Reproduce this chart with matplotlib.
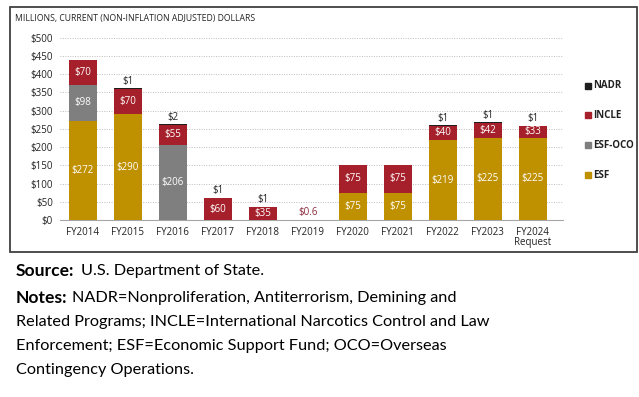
import matplotlib
matplotlib.use("Agg")
import matplotlib.pyplot as plt
from matplotlib.patches import Rectangle

years = ["FY2014", "FY2015", "FY2016", "FY2017", "FY2018", "FY2019",
         "FY2020", "FY2021", "FY2022", "FY2023", "FY2024\nRequest"]
esf = [272, 290, 0, 0, 0, 0, 75, 75, 219, 225, 225]
esf_oco = [98, 0, 206, 0, 0, 0, 0, 0, 0, 0, 0]
incle = [70, 70, 55, 60, 35, 0.6, 75, 75, 40, 42, 33]
nadr = [0, 1, 2, 1, 1, 0, 0, 0, 1, 1, 1]
yticks = [0, 50, 100, 150, 200, 250, 300, 350, 400, 450, 500]

C_ESF = "#BF9000"
C_OCO = "#7F7F7F"
C_INCLE = "#A5202A"
C_NADR = "#1E1E1E"

W, H = 639, 397
fig = plt.figure(figsize=(W / 100, H / 100), dpi=100)
fig.patch.set_facecolor("white")

def fx(px):
    return px / W

def fy(py):
    return 1 - py / H

# chart box
fig.patches.append(Rectangle((fx(10), fy(252)), fx(627), (252 - 7) / H,
                             transform=fig.transFigure, fill=False,
                             edgecolor="#404040", linewidth=1.3))

ax = fig.add_axes([fx(60), fy(220), fx(503), (220 - 37.7) / H])
x = list(range(len(years)))
bw = 0.62
font = "Open Sans"

bottom = [0] * len(x)
series = [(esf, C_ESF), (esf_oco, C_OCO), (incle, C_INCLE), (nadr, C_NADR)]
for vals, col in series:
    ax.bar(x, vals, bw, bottom=bottom, color=col, zorder=3)
    bottom = [b + v for b, v in zip(bottom, vals)]

def fmt(v):
    return f"${v:g}"

# value labels
for i in x:
    b = 0
    for vals in (esf, esf_oco, incle):
        v = vals[i]
        if v >= 5:
            ax.text(i, b + v / 2, fmt(v), ha="center", va="center",
                    color="white", fontsize=7, family=font, zorder=4)
        b += v
    if incle[i] < 5 and incle[i] > 0:
        ax.text(i, b + 4, fmt(incle[i]), ha="center", va="bottom",
                color="#8B2A3A", fontsize=7, family=font, zorder=4)
    if nadr[i] > 0:
        ax.text(i, b + nadr[i] + 4, fmt(nadr[i]), ha="center", va="bottom",
                color="#222222", fontsize=7, family=font, zorder=4)

ax.set_xlim(-0.51, 10.67)
ax.set_ylim(0, 500)
ax.set_yticks(yticks)
ax.set_yticklabels([f"${t}" for t in yticks], family=font, fontsize=7, color="#222222")
ax.set_xticks(x)
ax.set_xticklabels(years, family=font, fontsize=7, color="#222222", linespacing=0.9)
ax.tick_params(length=0, pad=5)
ax.yaxis.grid(True, linestyle=(0, (1, 1.5)), color="#BDBDBD", linewidth=0.7, zorder=0)
for s in ("left", "right", "top"):
    ax.spines[s].set_visible(False)
ax.spines["bottom"].set_color("#A6A6A6")
ax.spines["bottom"].set_linewidth(0.8)

fig.text(fx(15), fy(18), "MILLIONS, CURRENT (NON-INFLATION ADJUSTED) DOLLARS",
         ha="left", va="center", fontsize=6.2, family=font, color="#222222")

# legend
legend_items = [("NADR", C_NADR, 86), ("INCLE", C_INCLE, 115),
                ("ESF-OCO", C_OCO, 145), ("ESF", C_ESF, 175)]
for name, col, py in legend_items:
    fig.patches.append(Rectangle((fx(585), fy(py + 3)), fx(5.5), 6 / H,
                                 transform=fig.transFigure, color=col))
    fig.text(fx(593), fy(py), name, ha="left", va="center", fontsize=7,
             family=font, weight="bold", color="#222222")

# source / notes
tf = "Lato"
fs = 11.7
fsb = 12.6
fig.text(fx(16), fy(271), "Source:", ha="left", va="center", fontsize=fsb,
         family=tf, weight="bold", color="black")
fig.text(fx(81), fy(271), "U.S. Department of State.", ha="left", va="center",
         fontsize=fs, family=tf, color="black")
fig.text(fx(16), fy(298), "Notes:", ha="left", va="center", fontsize=fsb,
         family=tf, weight="bold", color="black")
fig.text(fx(72), fy(298), "NADR=Nonproliferation, Antiterrorism, Demining and",
         ha="left", va="center", fontsize=fs, family=tf, color="black")
lines = ["Related Programs; INCLE=International Narcotics Control and Law",
         "Enforcement; ESF=Economic Support Fund; OCO=Overseas",
         "Contingency Operations."]
for k, ln in enumerate(lines):
    fig.text(fx(16), fy(322 + 24 * k), ln, ha="left", va="center",
             fontsize=fs, family=tf, color="black")

fig.savefig("out.png", dpi=100)
